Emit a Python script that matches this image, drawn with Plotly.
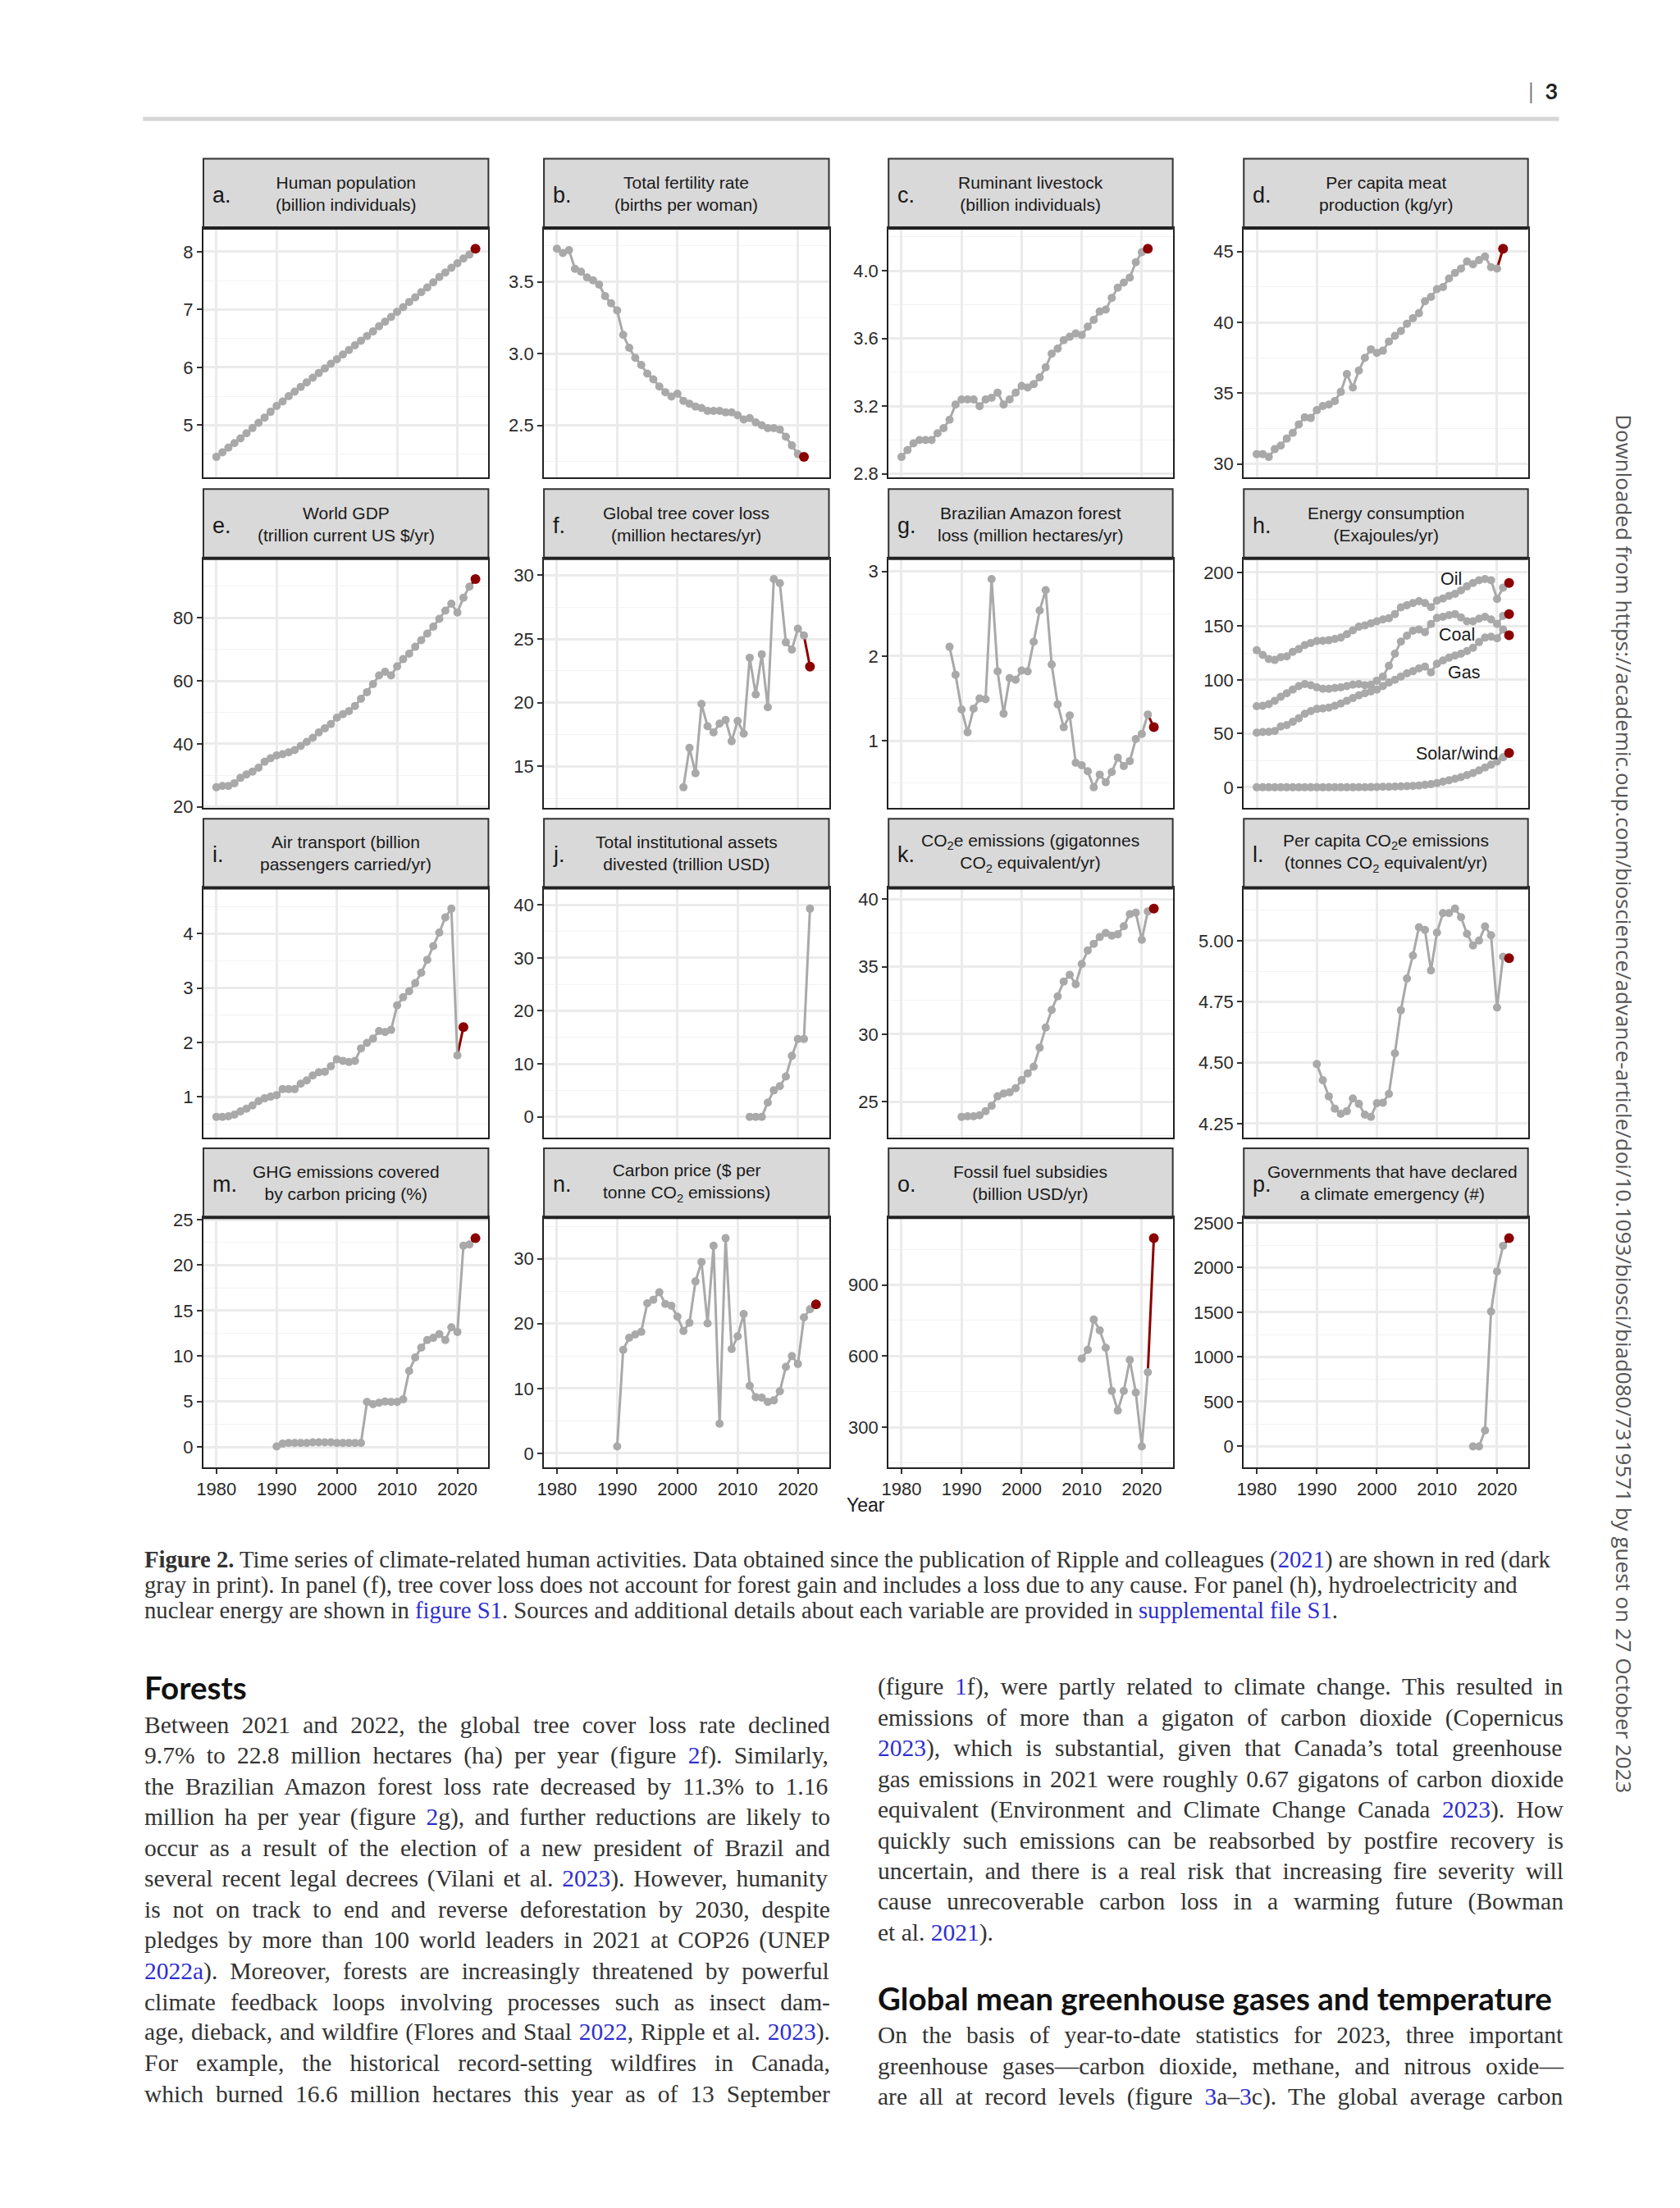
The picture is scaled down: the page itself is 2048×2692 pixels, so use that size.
import re
import plotly.graph_objects as go

W, H = 2048, 2692
GREY = "#A9A9A9"
DARKRED = "#8B0000"
LINK = "#2F2FCF"

# ---- data (gray = earlier series, *_new = red point) ----

# a. Human population (billion individuals)
pop_yr = list(range(1980, 2023))
pop = [4.45, 4.53, 4.61, 4.69, 4.77, 4.86, 4.95, 5.04, 5.13, 5.23,
       5.33, 5.41, 5.50, 5.58, 5.66, 5.74, 5.82, 5.90, 5.98, 6.06,
       6.14, 6.22, 6.30, 6.38, 6.46, 6.54, 6.62, 6.71, 6.79, 6.87,
       6.96, 7.04, 7.13, 7.21, 7.30, 7.38, 7.47, 7.56, 7.64, 7.72,
       7.80, 7.88, 7.95]
pop_new = (2023, 8.05)

# b. Total fertility rate (births per woman)
tfr_yr = list(range(1980, 2021))
tfr = [3.73, 3.70, 3.72, 3.59, 3.57, 3.53, 3.51, 3.48, 3.40, 3.35,
       3.30, 3.13, 3.04, 2.97, 2.92, 2.86, 2.82, 2.77, 2.73, 2.70,
       2.72, 2.67, 2.65, 2.63, 2.62, 2.60, 2.60, 2.60, 2.59, 2.59,
       2.57, 2.54, 2.55, 2.52, 2.50, 2.48, 2.48, 2.47, 2.42, 2.36,
       2.30]
tfr_new = (2021, 2.28)

# c. Ruminant livestock (billion individuals)
rum_yr = list(range(1980, 2021))
rum = [2.90, 2.94, 2.98, 3.00, 3.00, 3.00, 3.04, 3.07, 3.12, 3.21,
       3.24, 3.24, 3.24, 3.20, 3.24, 3.25, 3.28, 3.21, 3.24, 3.28,
       3.32, 3.31, 3.33, 3.37, 3.43, 3.51, 3.54, 3.59, 3.61, 3.63,
       3.62, 3.67, 3.71, 3.76, 3.77, 3.84, 3.90, 3.93, 3.96, 4.05,
       4.11]
rum_new = (2021, 4.13)

# d. Per capita meat production (kg/yr)
meat_yr = list(range(1980, 2021))
meat = [30.7, 30.7, 30.5, 31.05, 31.3, 31.8, 32.2, 32.8, 33.3, 33.25,
        33.8, 34.1, 34.2, 34.45, 35.1, 36.35, 35.4, 36.6, 37.5, 38.1,
        37.85, 38.0, 38.65, 39.05, 39.4, 39.9, 40.3, 40.65, 41.5, 41.8,
        42.35, 42.5, 43.1, 43.5, 43.8, 44.3, 44.1, 44.4, 44.65, 43.9,
        43.8]
meat_new = (2021, 45.2)

# e. World GDP (trillion current US $/yr)
gdp_yr = list(range(1980, 2023))
gdp = [26.2, 26.6, 26.6, 27.5, 29.2, 30.3, 31.2, 32.4, 34.3, 35.4,
       36.3, 36.7, 37.3, 38.0, 39.3, 40.6, 41.9, 43.6, 44.9, 46.3,
       48.3, 49.4, 50.4, 52.0, 54.3, 56.4, 59.0, 61.7, 62.9, 61.7,
       64.6, 66.9, 68.6, 70.8, 72.9, 75.0, 77.2, 79.7, 82.3, 84.5,
       81.7, 86.4, 89.9]
gdp_new = (2023, 92.3)

# f. Global tree cover loss (million hectares/yr)
tree_yr = list(range(2001, 2022))
tree = [13.36, 16.45, 14.47, 19.9, 18.15, 17.66, 18.36, 18.64, 16.98, 18.57,
        17.57, 23.53, 20.64, 23.79, 19.64, 29.70, 29.38, 24.74, 24.17, 25.81,
        25.28]
tree_new = (2022, 22.83)

# g. Brazilian Amazon forest loss (million hectares/yr)
amz_yr = list(range(1988, 2022))
amz = [2.11, 1.78, 1.37, 1.10, 1.38, 1.50, 1.49, 2.91, 1.82, 1.32,
       1.74, 1.72, 1.83, 1.82, 2.17, 2.54, 2.78, 1.90, 1.43, 1.16,
       1.30, 0.74, 0.71, 0.64, 0.45, 0.60, 0.51, 0.63, 0.80, 0.70,
       0.76, 1.02, 1.08, 1.31]
amz_new = (2022, 1.16)

# h. Energy consumption (Exajoules/yr)
en_yr = list(range(1980, 2022))
oil = [127.6, 123.1, 119.3, 118.5, 121.1, 121.8, 126.1, 128.6, 132.3, 134.3,
       136.1, 136.3, 136.8, 138.1, 139.3, 142.4, 146.1, 149.4, 150.6, 152.6,
       154.4, 156.1, 157.4, 161.2, 167.4, 169.4, 171.4, 173.2, 171.4, 167.7,
       173.7, 175.7, 178.2, 180.0, 183.2, 187.0, 190.2, 192.7, 193.7, 192.7,
       175.2, 185.7]
oil_new = (2022, 190.2)
coal = [75.4, 75.9, 77.4, 80.5, 84.2, 87.5, 91.0, 94.2, 96.0, 95.0,
        93.0, 91.7, 91.7, 92.5, 93.0, 94.2, 95.5, 96.0, 95.0, 95.5,
        99.2, 103.0, 113.0, 124.3, 135.6, 141.1, 145.6, 146.9, 144.4, 151.9,
        157.6, 158.6, 160.2, 161.2, 158.1, 154.4, 154.4, 156.9, 158.6, 156.1,
        151.9, 159.5]
coal_new = (2022, 161.2)
gas = [50.9, 51.4, 51.6, 52.4, 56.6, 57.9, 60.9, 64.2, 68.4, 70.9,
       72.9, 73.4, 74.2, 75.9, 77.9, 80.5, 83.0, 85.5, 87.5, 89.2,
       91.0, 94.2, 97.5, 100.0, 103.0, 106.0, 108.0, 110.5, 112.3, 107.0,
       115.0, 118.0, 120.6, 122.6, 124.3, 126.8, 129.8, 135.1, 139.3, 140.1,
       138.6, 146.9]
gas_new = (2022, 141.4)
solar = [0.0, 0.0, 0.0, 0.0, 0.0, 0.0, 0.0, 0.0, 0.0, 0.0,
         0.0, 0.0, 0.0, 0.0, 0.0, 0.0, 0.0, 0.1, 0.1, 0.2,
         0.3, 0.4, 0.5, 0.6, 0.8, 1.0, 1.3, 1.7, 2.3, 2.9,
         3.9, 5.2, 6.5, 7.9, 9.5, 11.3, 13.3, 15.8, 18.4, 21.0,
         24.0, 28.0]
solar_new = (2022, 32.0)
en_labels = ["Oil", "Coal", "Gas", "Solar/wind"]
en_label_pos = [(2012.4, 194), (2013.3, 142), (2014.5, 107), (2013.3, 31)]

# i. Air transport (billion passengers carried/yr)
air_yr = list(range(1980, 2021))
air = [0.63, 0.63, 0.64, 0.67, 0.73, 0.78, 0.84, 0.92, 0.97, 1.00,
       1.03, 1.14, 1.14, 1.14, 1.24, 1.30, 1.39, 1.45, 1.46, 1.56,
       1.69, 1.66, 1.64, 1.66, 1.89, 1.99, 2.07, 2.21, 2.19, 2.23,
       2.68, 2.83, 2.94, 3.09, 3.28, 3.52, 3.77, 4.02, 4.30, 4.46,
       1.76]
air_new = (2021, 2.28)

# j. Total institutional assets divested (trillion USD)
div_yr = list(range(2012, 2023))
div = [0.0, 0.0, 0.0, 2.7, 5.0, 5.8, 7.6, 11.5, 14.7, 14.7, 39.3]

# k. CO2e emissions (gigatonnes CO2 equivalent/yr)
co2_yr = list(range(1990, 2022))
co2 = [23.88, 23.92, 23.92, 24.0, 24.3, 24.7, 25.4, 25.6, 25.7, 26.0,
       26.6, 27.1, 27.6, 29.0, 30.5, 31.8, 32.8, 33.9, 34.4, 33.7,
       35.2, 36.2, 36.7, 37.2, 37.5, 37.3, 37.4, 38.0, 38.9, 39.0,
       37.0, 39.1]
co2_new = (2022, 39.3)

# l. Per capita CO2e emissions (tonnes CO2 equivalent/yr)
pc_yr = list(range(1990, 2022))
pc = [4.494, 4.428, 4.362, 4.311, 4.290, 4.301, 4.353, 4.331, 4.287, 4.278,
      4.334, 4.336, 4.372, 4.538, 4.715, 4.845, 4.939, 5.055, 5.044, 4.878,
      5.033, 5.113, 5.113, 5.131, 5.096, 5.028, 4.980, 5.000, 5.058, 5.022,
      4.726, 4.934]
pc_new = (2022, 4.928)

# m. GHG emissions covered by carbon pricing (%)
ghg_yr = list(range(1990, 2023))
ghg = [0.06, 0.36, 0.44, 0.44, 0.44, 0.44, 0.5, 0.5, 0.5, 0.5,
       0.44, 0.44, 0.44, 0.44, 0.44, 4.95, 4.71, 4.86, 5.0, 4.95,
       4.95, 5.24, 8.36, 9.84, 10.93, 11.76, 12.0, 12.41, 11.76, 13.16,
       12.65, 22.13, 22.28]
ghg_new = (2023, 22.96)

# n. Carbon price ($ per tonne CO2 emissions)
cp_yr = list(range(1990, 2023))
cp = [1.08, 15.96, 17.83, 18.33, 18.75, 23.13, 23.67, 24.83, 23.04, 22.75,
      21.08, 18.88, 20.13, 26.5, 29.5, 20.04, 32.0, 4.58, 33.17, 16.08,
      18.04, 21.5, 10.42, 8.67, 8.6, 7.92, 8.17, 9.58, 13.33, 15.0,
      13.79, 20.96, 22.21]
cp_new = (2023, 22.96)

# o. Fossil fuel subsidies (billion USD/yr)
ffs_yr = list(range(2010, 2022))
ffs = [589, 626, 754, 708, 635, 453, 370, 453, 584, 446, 219, 532]
ffs_new = (2022, 1097)

# p. Governments that have declared a climate emergency (#)
gov_yr = list(range(2016, 2022))
gov = [0, 0, 178, 1508, 1956, 2243]
gov_new = (2022, 2328)

PANELS = [
    dict(tag="a.", title="Human population<br>(billion individuals)",
         series=[(pop_yr, pop, pop_new)], dtick=1),
    dict(tag="b.", title="Total fertility rate<br>(births per woman)",
         series=[(tfr_yr, tfr, tfr_new)], dtick=0.5, fmt=".1f"),
    dict(tag="c.", title="Ruminant livestock<br>(billion individuals)",
         series=[(rum_yr, rum, rum_new)], dtick=0.4, fmt=".1f"),
    dict(tag="d.", title="Per capita meat<br>production (kg/yr)",
         series=[(meat_yr, meat, meat_new)], dtick=5),
    dict(tag="e.", title="World GDP<br>(trillion current US $/yr)",
         series=[(gdp_yr, gdp, gdp_new)], dtick=20),
    dict(tag="f.", title="Global tree cover loss<br>(million hectares/yr)",
         series=[(tree_yr, tree, tree_new)], dtick=5),
    dict(tag="g.", title="Brazilian Amazon forest<br>loss (million hectares/yr)",
         series=[(amz_yr, amz, amz_new)], dtick=1),
    dict(tag="h.", title="Energy consumption<br>(Exajoules/yr)",
         series=[(en_yr, oil, oil_new), (en_yr, coal, coal_new),
                 (en_yr, gas, gas_new), (en_yr, solar, solar_new)], dtick=50),
    dict(tag="i.", title="Air transport (billion<br>passengers carried/yr)",
         series=[(air_yr, air, air_new)], dtick=1),
    dict(tag="j.", title="Total institutional assets<br>divested (trillion USD)",
         series=[(div_yr, div, None)], dtick=10),
    dict(tag="k.", title="CO<sub>2</sub>e emissions (gigatonnes<br>CO<sub>2</sub> equivalent/yr)",
         series=[(co2_yr, co2, co2_new)], dtick=5),
    dict(tag="l.", title="Per capita CO<sub>2</sub>e emissions<br>(tonnes CO<sub>2</sub> equivalent/yr)",
         series=[(pc_yr, pc, pc_new)], dtick=0.25, fmt=".2f"),
    dict(tag="m.", title="GHG emissions covered<br>by carbon pricing (%)",
         series=[(ghg_yr, ghg, ghg_new)], dtick=5),
    dict(tag="n.", title="Carbon price ($ per<br>tonne CO<sub>2</sub> emissions)",
         series=[(cp_yr, cp, cp_new)], dtick=10),
    dict(tag="o.", title="Fossil fuel subsidies<br>(billion USD/yr)",
         series=[(ffs_yr, ffs, ffs_new)], dtick=300),
    dict(tag="p.", title="Governments that have declared<br>a climate emergency (#)",
         series=[(gov_yr, gov, gov_new)], dtick=500),
]

# ---- page geometry (pixels of the 2048 x 2692 page) ----
# the html body keeps its default 8px margin, so the figure starts 8px in from the corner;
# it is kept a little smaller than the window so the page never scrolls
PAD = 8
FW, FH = 2010, 2640
COLS = [(240, 589), (657, 1006), (1079, 1427), (1514, 1862)]
ROWS = [(185, 270, 577), (591, 676, 983), (996, 1081, 1388), (1401, 1486, 1793)]
X_RANGE = [1977.85, 2025.15]
AXIS_FONT = "Liberation Sans, Arial, sans-serif"
TEXT_FONT = "Liberation Serif, Times New Roman, serif"
HEAD_FONT = "Lato, Noto Sans, sans-serif"

# Times / Liberation Serif advance widths (1/1000 em), used to justify body lines
_TW = dict(zip("abcdefghijklmnopqrstuvwxyz",
               [444, 500, 444, 500, 444, 333, 500, 500, 278, 278, 500, 278, 778,
                500, 500, 500, 500, 333, 389, 278, 500, 500, 722, 500, 500, 444]))
_TW.update(dict(zip("ABCDEFGHIJKLMNOPQRSTUVWXYZ",
                    [722, 667, 667, 722, 611, 556, 722, 722, 333, 389, 722, 611, 889,
                     722, 722, 556, 722, 667, 556, 611, 722, 722, 944, 722, 722, 611])))
_TW.update({" ": 250, ",": 250, ".": 250, "-": 333, "(": 333, ")": 333, "%": 833,
            "’": 333, "—": 1000, "–": 500, "/": 278, ":": 278, ";": 278})
for _d in "0123456789":
    _TW[_d] = 500


def px(x):
    return (x - PAD) / FW


def py(y):
    return 1 - (y - PAD) / FH


def note(text, x, y, size, color="#333333", family=TEXT_FONT, xanchor="left", **kw):
    return dict(text=text, x=px(x), y=py(y), xref="paper", yref="paper",
                xanchor=xanchor, yanchor="middle", showarrow=False,
                font=dict(size=size, color=color, family=family), **kw)


def link(s):
    return f"<span style='color:{LINK}'>{s}</span>"


def justify(line, size, width):
    plain = re.sub(r"<[^>]+>", "", line)
    natural = sum(_TW.get(c, 500) for c in plain) * size / 1000
    gaps = plain.count(" ")
    extra = max(0.0, (width - natural) / gaps) if gaps else 0.0
    return f"<span style='word-spacing:{extra:.2f}px'>{line}</span>"


fig = go.Figure()
layout = {}
shapes = []
annotations = []

for i, p in enumerate(PANELS):
    k = i + 1
    row, col = divmod(i, 4)
    x0, x1 = COLS[col]
    s_top, p_top, p_bot = ROWS[row]
    xa, ya = f"x{k}", f"y{k}"

    for xs, ys, new in p["series"]:
        if new:
            fig.add_trace(go.Scatter(x=[xs[-1], new[0]], y=[ys[-1], new[1]], mode="lines",
                                     line=dict(color=DARKRED, width=3), xaxis=xa, yaxis=ya))
        fig.add_trace(go.Scatter(x=xs, y=ys, mode="lines+markers",
                                 line=dict(color=GREY, width=3),
                                 marker=dict(color=GREY, size=10), xaxis=xa, yaxis=ya))
        if new:
            fig.add_trace(go.Scatter(x=[new[0]], y=[new[1]], mode="markers",
                                     marker=dict(color=DARKRED, size=12), xaxis=xa, yaxis=ya))

    # ggplot-like limits: data range padded by 10%
    vals = [v for xs, ys, new in p["series"] for v in list(ys) + ([new[1]] if new else [])]
    lo, hi = min(vals), max(vals)
    pad = 0.1 * (hi - lo)
    d = p["dtick"]
    bottom = row == 3

    layout[f"xaxis{k}"] = dict(
        domain=[px(x0), px(x1)], anchor=ya, range=X_RANGE,
        tickmode="linear", tick0=1980, dtick=10,
        showgrid=True, gridcolor="#EBEBEB", gridwidth=2.5, zeroline=False,
        showline=True, mirror=True, linecolor="#222222", linewidth=2,
        showticklabels=bottom, ticks="outside" if bottom else "",
        ticklen=6, tickwidth=2, tickcolor="#333333",
        tickfont=dict(size=22, color="#2b2b2b", family=AXIS_FONT),
    )
    layout[f"yaxis{k}"] = dict(
        domain=[py(p_bot), py(p_top)], anchor=xa, range=[lo - pad, hi + pad],
        tickmode="linear", tick0=0, dtick=d, tickformat=p.get("fmt", ""),
        showgrid=True, gridcolor="#EBEBEB", gridwidth=2.5, zeroline=False,
        minor=dict(tick0=0, dtick=d / 2, showgrid=True, gridcolor="#F3F3F3",
                   gridwidth=1.4, ticks=""),
        showline=True, mirror=True, linecolor="#222222", linewidth=2,
        ticks="outside", ticklen=6, tickwidth=2, tickcolor="#333333",
        tickfont=dict(size=22, color="#2b2b2b", family=AXIS_FONT),
    )

    # strip
    shapes.append(dict(type="rect", xref="paper", yref="paper",
                       x0=px(x0), x1=px(x1), y0=py(p_top), y1=py(s_top),
                       fillcolor="#D9D9D9", line=dict(color="#333333", width=2), layer="above"))
    shapes.append(dict(type="line", xref="paper", yref="paper",
                       x0=px(x0), x1=px(x1), y0=py(p_top), y1=py(p_top),
                       line=dict(color="#222222", width=4), layer="above"))
    mid = (s_top + p_top) / 2
    annotations.append(note(p["tag"], x0 + 9, mid + 2, 27, "#1a1a1a", AXIS_FONT))
    cx = (x0 + x1) / 2 + (8 if p["tag"] == "p." else 0)
    annotations.append(note(p["title"], cx, mid, 21, "#1a1a1a", AXIS_FONT, xanchor="center"))

# energy labels inside panel h
for lab, (lx, ly) in zip(en_labels, en_label_pos):
    annotations.append(dict(text=lab, x=lx, y=ly, xref="x8", yref="y8", showarrow=False,
                            xanchor="center", yanchor="middle",
                            font=dict(size=21.5, color="#1a1a1a", family=AXIS_FONT)))

annotations.append(note("Year", 1051, 1840, 23, "#1a1a1a", AXIS_FONT, xanchor="center"))

# ---- page furniture: header rule, page number, side note, caption, body text ----
shapes.append(dict(type="line", xref="paper", yref="paper", x0=px(166), x1=px(1900),
                   y0=py(136), y1=py(136), line=dict(color="#D6D6D6", width=5)))
annotations.append(note("<span style='color:#777'>|</span>  <b>3</b>", 1900, 101, 27,
                        "#222222", HEAD_FONT, xanchor="right"))
annotations.append(note("Downloaded from https://academic.oup.com/bioscience/advance-article/doi/"
                        "10.1093/biosci/biad080/7319571 by guest on 27 October 2023",
                        1979, 1346, 26, "#555555", "Open Sans, Noto Sans, sans-serif",
                        xanchor="center", textangle=90))

caption = [
    "<b>Figure 2.</b> Time series of climate-related human activities. Data obtained since the "
    "publication of Ripple and colleagues (" + link("2021") + ") are shown in red (dark",
    "gray in print). In panel (f), tree cover loss does not account for forest gain and includes "
    "a loss due to any cause. For panel (h), hydroelectricity and",
    "nuclear energy are shown in " + link("figure S1") + ". Sources and additional details about "
    "each variable are provided in " + link("supplemental file S1") + ".",
]
for j, line in enumerate(caption):
    annotations.append(note(line, 166, 1907 + 31 * j, 28.7, "#333333"))

left_col = [
    "Between 2021 and 2022, the global tree cover loss rate declined",
    "9.7% to 22.8 million hectares (ha) per year (figure " + link("2") + "f). Similarly,",
    "the Brazilian Amazon forest loss rate decreased by 11.3% to 1.16",
    "million ha per year (figure " + link("2") + "g), and further reductions are likely to",
    "occur as a result of the election of a new president of Brazil and",
    "several recent legal decrees (Vilani et al. " + link("2023") + "). However, humanity",
    "is not on track to end and reverse deforestation by 2030, despite",
    "pledges by more than 100 world leaders in 2021 at COP26 (UNEP",
    link("2022a") + "). Moreover, forests are increasingly threatened by powerful",
    "climate feedback loops involving processes such as insect dam-",
    "age, dieback, and wildfire (Flores and Staal " + link("2022") + ", Ripple et al. " + link("2023") + ").",
    "For example, the historical record-setting wildfires in Canada,",
    "which burned 16.6 million hectares this year as of 13 September",
]
right_col = [
    "(figure " + link("1") + "f), were partly related to climate change. This resulted in",
    "emissions of more than a gigaton of carbon dioxide (Copernicus",
    link("2023") + "), which is substantial, given that Canada’s total greenhouse",
    "gas emissions in 2021 were roughly 0.67 gigatons of carbon dioxide",
    "equivalent (Environment and Climate Change Canada " + link("2023") + "). How",
    "quickly such emissions can be reabsorbed by postfire recovery is",
    "uncertain, and there is a real risk that increasing fire severity will",
    "cause unrecoverable carbon loss in a warming future (Bowman",
    "et al. " + link("2021") + ").",
]
right_col2 = [
    "On the basis of year-to-date statistics for 2023, three important",
    "greenhouse gases—carbon dioxide, methane, and nitrous oxide—",
    "are all at record levels (figure " + link("3") + "a–" + link("3") + "c). The global average carbon",
]
LH = 37.77
BODY = 29.5
COLW = 836
annotations.append(note("<b>Forests</b>", 166, 2063, 38.5, "#111111", HEAD_FONT))
for j, line in enumerate(left_col):
    annotations.append(note(justify(line, BODY, COLW), 166, 2110 + LH * j, BODY))
for j, line in enumerate(right_col):
    txt = line if j == len(right_col) - 1 else justify(line, BODY, COLW)
    annotations.append(note(txt, 1064, 2063 + LH * j, BODY))
annotations.append(note("<b>Global mean greenhouse gases and temperature</b>", 1064, 2445, 38.5,
                        "#111111", HEAD_FONT))
for j, line in enumerate(right_col2):
    annotations.append(note(justify(line, BODY, COLW), 1064, 2491 + LH * j, BODY))

fig.update_layout(
    width=FW, height=FH, margin=dict(l=0, r=0, t=0, b=0),
    paper_bgcolor="white", plot_bgcolor="white", showlegend=False,
    shapes=shapes, annotations=annotations, **layout,
)
fig.write_html("out.html", config={"displayModeBar": False})
